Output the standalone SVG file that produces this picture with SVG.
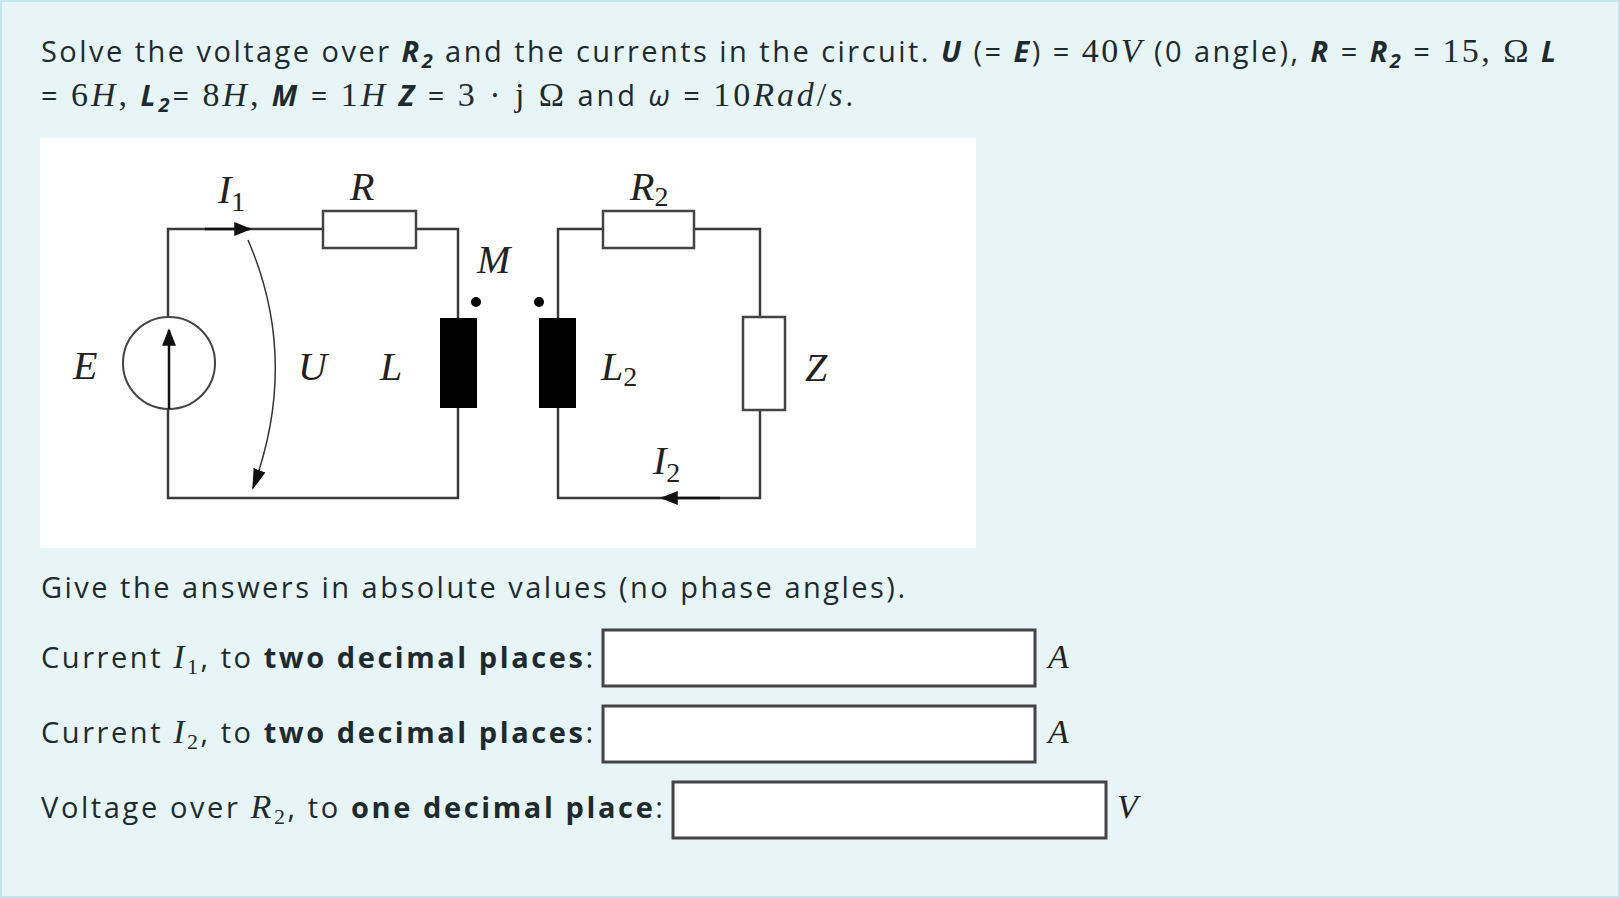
<svg xmlns="http://www.w3.org/2000/svg" width="1620" height="898" viewBox="0 0 1620 898">
<style>
.t{font-family:"Open Sans",Lato,sans-serif;font-size:29px;fill:#1d2b2f}
.b{font-weight:bold;font-style:italic}
.bb{font-weight:bold}
.m{font-family:"Liberation Serif",serif;font-size:34px}
.i{font-style:italic}
.c{font-family:"Liberation Serif",serif;font-style:italic;font-size:40px;fill:#222}
.cs{font-family:"Liberation Serif",serif;font-size:28px;fill:#222}
.w{stroke:#3a3a3a;stroke-width:2.5;fill:none}
.box{fill:#fff;stroke:#444;stroke-width:3}
</style>
<defs>
<marker id="ah" viewBox="0 0 10 10" refX="9" refY="5" markerWidth="7" markerHeight="7" markerUnits="strokeWidth" orient="auto"><path d="M0,1L10,5L0,9z" fill="#111"/></marker>
<marker id="ah2" viewBox="0 0 10 10" refX="9" refY="5" markerWidth="14" markerHeight="14" markerUnits="strokeWidth" orient="auto"><path d="M0,2L10,5L0,8z" fill="#111"/></marker>
</defs>
<rect width="1620" height="898" fill="#e8f5f7"/>
<rect x="0.5" y="0.5" width="1619" height="897" fill="none" stroke="#c3e6ee" stroke-width="3"/>
<text class="t" x="41" y="62" textLength="1515" lengthAdjust="spacing">Solve the voltage over <tspan class="b">R<tspan font-size="20" dy="6">2</tspan></tspan><tspan dy="-6"> and the currents in the circuit. </tspan><tspan class="b">U</tspan> (= <tspan class="b">E</tspan>) = <tspan class="m">40<tspan class="i">V</tspan></tspan> (0 angle), <tspan class="b">R</tspan> = <tspan class="b">R<tspan font-size="20" dy="6">2</tspan></tspan><tspan dy="-6"> = </tspan><tspan class="m">15, Ω</tspan> <tspan class="b">L</tspan></text>
<text class="t" x="41" y="106" textLength="812" lengthAdjust="spacing">= <tspan class="m">6<tspan class="i">H</tspan>,</tspan> <tspan class="b">L<tspan font-size="20" dy="6">2</tspan></tspan><tspan dy="-6">= </tspan><tspan class="m">8<tspan class="i">H</tspan>,</tspan> <tspan class="b">M</tspan> = <tspan class="m">1<tspan class="i">H</tspan></tspan> <tspan class="b">Z</tspan> = <tspan class="m">3 · j Ω</tspan> and <tspan class="i">ω</tspan> = <tspan class="m"> 10<tspan class="i">Rad</tspan>/<tspan class="i">s</tspan></tspan>.</text>

<rect x="40" y="138" width="936" height="410" fill="#fff"/>

<g id="connectors">
<path class="w" d="M168,317V229H323M416,229H458V318M458,408V498H168V409"/>
<path class="w" d="M558,318V229H603M694,229H760V317M760,410V498H558V408"/>
<path d="M205,229H250" stroke="#111" stroke-width="2.5" marker-end="url(#ah)"/>
<path d="M720,498H662" stroke="#111" stroke-width="2.5" marker-end="url(#ah)"/>
<path d="M248,240Q300,360 253,488" stroke="#333" stroke-width="1.5" fill="none" marker-end="url(#ah2)"/>
</g>
<g id="E"><circle cx="169" cy="363" r="46" fill="#fff" stroke="#444" stroke-width="2"/><path d="M169,409V330" stroke="#111" stroke-width="2.5" marker-end="url(#ah)"/><text class="c" x="73" y="379">E</text></g>
<g id="R"><rect x="323" y="211" width="93" height="37" fill="#fff" stroke="#444" stroke-width="2.5"/><text class="c" x="350" y="200">R</text></g>
<g id="I1"><text class="c" x="218" y="203">I<tspan class="cs" font-style="normal" dy="8">1</tspan></text></g>
<g id="U"><text class="c" x="298" y="380">U</text></g>
<g id="L"><rect x="440" y="318" width="37" height="90" fill="#000"/><text class="c" x="380" y="380">L</text><circle cx="476" cy="302" r="5" fill="#000"/></g>
<g id="M"><text class="c" x="477" y="273" fill="#555">M</text></g>
<g id="L2"><rect x="539" y="318" width="37" height="90" fill="#000"/><circle cx="539" cy="302" r="5" fill="#000"/><text class="c" x="601" y="380">L<tspan class="cs" font-style="normal" dy="6">2</tspan></text></g>
<g id="R2"><rect x="603" y="211" width="91" height="37" fill="#fff" stroke="#444" stroke-width="2.5"/><text class="c" x="630" y="200">R<tspan class="cs" font-style="normal" dy="6">2</tspan></text></g>
<g id="Z"><rect x="743" y="317" width="42" height="93" fill="#fff" stroke="#444" stroke-width="2.5"/><text class="c" x="805" y="381">Z</text></g>
<g id="I2"><text class="c" x="653" y="474">I<tspan class="cs" font-style="normal" dy="8">2</tspan></text></g>

<text class="t" x="41" y="598" textLength="864" lengthAdjust="spacing">Give the answers in absolute values (no phase angles).</text>
<g id="q1"><text class="t" x="41" y="668" textLength="552" lengthAdjust="spacing">Current <tspan class="m i">I<tspan font-size="22" font-style="normal" dy="6">1</tspan></tspan><tspan dy="-6">, to </tspan><tspan class="bb">two decimal places</tspan>:</text>
<rect class="box" x="603" y="630" width="432" height="56"/><text class="m i" x="1048" y="668" fill="#222">A</text></g>
<g id="q2"><text class="t" x="41" y="743" textLength="552" lengthAdjust="spacing">Current <tspan class="m i">I<tspan font-size="22" font-style="normal" dy="6">2</tspan></tspan><tspan dy="-6">, to </tspan><tspan class="bb">two decimal places</tspan>:</text>
<rect class="box" x="603" y="706" width="432" height="56"/><text class="m i" x="1048" y="743" fill="#222">A</text></g>
<g id="q3"><text class="t" x="41" y="818" textLength="622" lengthAdjust="spacing">Voltage over <tspan class="m i">R<tspan font-size="22" font-style="normal" dy="6">2</tspan></tspan><tspan dy="-6">, to </tspan><tspan class="bb">one decimal place</tspan>:</text>
<rect class="box" x="673" y="782" width="433" height="56"/><text class="m i" x="1117" y="818" fill="#222">V</text></g>
</svg>
